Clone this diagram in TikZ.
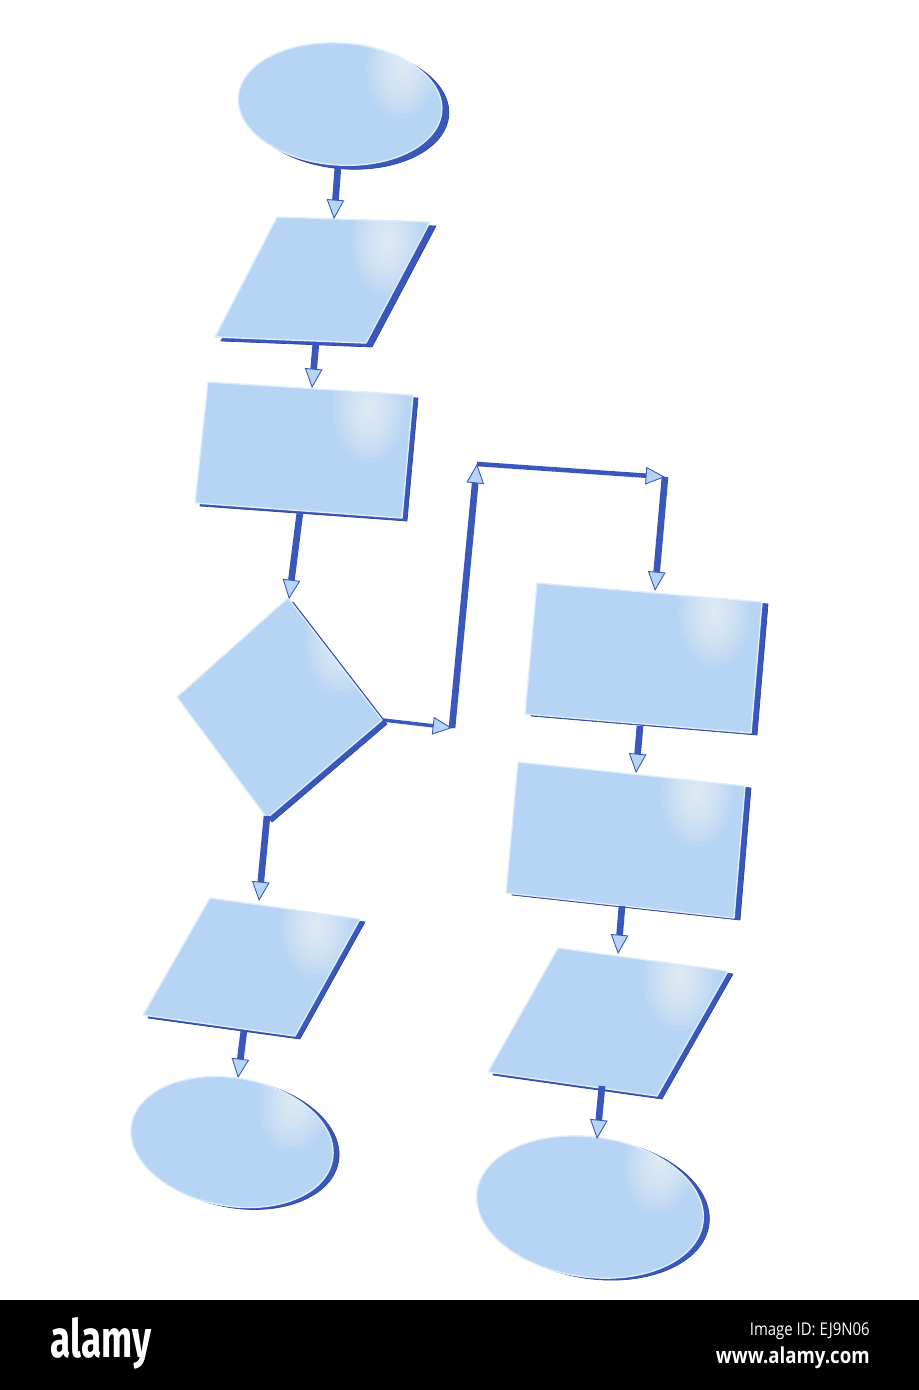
\documentclass[tikz,border=0pt]{standalone}
\usepackage{fontspec}
\newfontfamily\barfont{Open Sans}
\newfontfamily\logofont{Fira Sans}
\usetikzlibrary{arrows.meta,calc}
\definecolor{faceblue}{RGB}{182,212,244}
\definecolor{sideblue}{RGB}{58,88,188}
\definecolor{rimblue}{RGB}{222,236,252}
\tikzset{
	face/.style={fill=faceblue, draw=rimblue, line width=0.8pt, line join=round,
		path picture={
			\coordinate (gl) at ($(path picture bounding box.south west)!0.8!(path picture bounding box.north east)$);
			\foreach \r in {1,...,9}
				\fill [white, opacity=0.09] (gl) ellipse [x radius={\r*0.08cm}, y radius={\r*0.12cm}];}},
	side/.style={fill=sideblue, draw=sideblue!80!black, line width=0.4pt, line join=round},
	flow/.style={draw=sideblue, line width=3.8pt,
		-{Triangle[length=11pt,width=10pt,line width=0.5pt,color=sideblue,fill=faceblue]}},
}
\begin{document}
\begin{tikzpicture}[x=0.02cm, y=-0.02cm]
	\useasboundingbox (0,0) rectangle (919,1390);
	%%%% linke Spalte
	% Start
	\path [side, rotate around={-4:(347,108)}] (347,108) ellipse [x radius=102, y radius=61];
	\path [face, rotate around={-4:(340,104)}] (340,104) ellipse [x radius=102, y radius=61];
	\coordinate (start-s) at (338,166);
	% Eingabe 1
	\path [side, shift={(6,4)}] (277,217) -- (430,222) -- (366,343) -- (215,337) -- cycle;
	\path [face] (277,217) -- (430,222) -- (366,343) -- (215,337) -- cycle;
	\coordinate (in1-n) at (334,219);
	\coordinate (in1-s) at (316,342);
	% Kasten 1
	\path [side, shift={(5,3)}] (208,382) -- (413,395) -- (402,518) -- (195,503) -- cycle;
	\path [face] (208,382) -- (413,395) -- (402,518) -- (195,503) -- cycle;
	\coordinate (box1-n) at (312,388);
	\coordinate (box1-s) at (300,512);
	% Verzweigung
	\path [side, shift={(5,4)}] (288,598) -- (382,720) -- (267,818) -- (177,697) -- cycle;
	\path [face] (288,598) -- (382,720) -- (267,818) -- (177,697) -- cycle;
	\coordinate (dec-n) at (289,599);
	\coordinate (dec-s) at (267,816);
	\coordinate (dec-e) at (383,720);
	% Eingabe 2
	\path [side, shift={(5,3)}] (210,898) -- (360,919) -- (295,1036) -- (143,1015) -- cycle;
	\path [face] (210,898) -- (360,919) -- (295,1036) -- (143,1015) -- cycle;
	\coordinate (in2-n) at (259,901);
	\coordinate (in2-s) at (244,1030);
	% Ende 1
	\path [side, rotate around={-10:(238,1144)}] (238,1144) ellipse [x radius=102, y radius=64];
	\path [face, rotate around={-10:(232,1142)}] (232,1142) ellipse [x radius=102, y radius=64];
	\coordinate (end1-n) at (238,1078);
	%%%% rechte Spalte
	% Kasten 2
	\path [side, shift={(6,2)}] (537,583) -- (762,602) -- (751,733) -- (525,714) -- cycle;
	\path [face] (537,583) -- (762,602) -- (751,733) -- (525,714) -- cycle;
	\coordinate (box2-n) at (655,591);
	\coordinate (box2-s) at (640,726);
	% Kasten 3
	\path [side, shift={(6,2)}] (518,762) -- (745,786) -- (734,918) -- (506,893) -- cycle;
	\path [face] (518,762) -- (745,786) -- (734,918) -- (506,893) -- cycle;
	\coordinate (box3-n) at (636,773);
	\coordinate (box3-s) at (622,906);
	% Eingabe 3
	\path [side, shift={(5,3)}] (558,948) -- (728,971) -- (657,1096) -- (488,1072) -- cycle;
	\path [face] (558,948) -- (728,971) -- (657,1096) -- (488,1072) -- cycle;
	\coordinate (in3-n) at (618,954);
	\coordinate (in3-s) at (602,1086);
	% Ende 2
	\path [side, rotate around={-8:(596,1209)}] (596,1209) ellipse [x radius=114, y radius=70];
	\path [face, rotate around={-8:(590,1207)}] (590,1207) ellipse [x radius=114, y radius=70];
	\coordinate (end2-n) at (597,1139);
	%%%% Pfeile
	\draw [flow] (start-s) -- (in1-n);
	\draw [flow] (in1-s) -- (box1-n);
	\draw [flow] (box1-s) -- (dec-n);
	\draw [flow] (dec-s) -- (in2-n);
	\draw [flow] (in2-s) -- (end1-n);
	% Schleife nach rechts
	\coordinate (bend1) at (452,728);
	\coordinate (bend2) at (477,464);
	\coordinate (bend3) at (665,477);
	\draw [flow, line width=2pt] (dec-e) -- (bend1);
	\draw [flow] (bend1) -- (bend2);
	\draw [flow, line width=2.6pt] (bend2) -- (bend3);
	\draw [flow] (bend3) -- (box2-n);
	\draw [flow] (box2-s) -- (box3-n);
	\draw [flow] (box3-s) -- (in3-n);
	\draw [flow] (in3-s) -- (end2-n);
	%%%% Leiste unten
	\fill [black] (0,1300) rectangle (919,1390);
	\node [anchor=west, text=white, inner sep=0] (logo) at (50,1343) {\scalebox{0.7}[1]{\logofont\bfseries\fontsize{30}{30}\selectfont alamy}};
	\node [anchor=east, text=white, inner sep=0] (imgid) at (870,1331) {\scalebox{0.85}[1]{\barfont\fontsize{10}{12}\selectfont Image ID: EJ9N06}};
	\node [anchor=east, text=white, inner sep=0] (site) at (870,1358) {\scalebox{0.85}[1]{\barfont\bfseries\fontsize{12.5}{14}\selectfont www.alamy.com}};
\end{tikzpicture}
\end{document}
